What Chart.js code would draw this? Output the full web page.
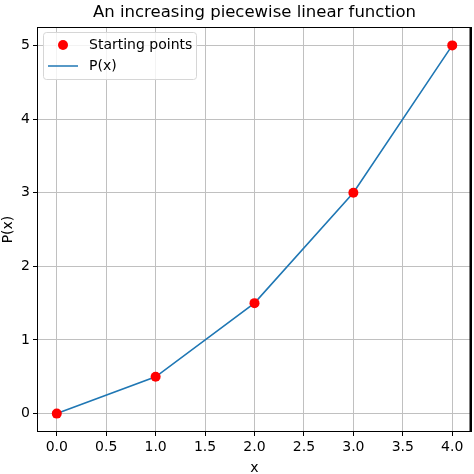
<!DOCTYPE html>
<html>
<head>
<meta charset="utf-8">
<script src="https://cdn.jsdelivr.net/npm/chart.js@4/dist/chart.umd.min.js"></script>
<style>
  html, body { margin: 0; padding: 0; background: #fff; }
  #wrap { width: 474px; height: 474px; }
</style>
</head>
<body>
<div id="wrap"><canvas id="c" width="474" height="474"></canvas></div>
<script>
// values
const xValues = [0, 1, 2, 3, 4];
const pValues = [0, 0.5, 1.5, 3, 5];
const xTicks = [0, 0.5, 1, 1.5, 2, 2.5, 3, 3.5, 4];
const yTicks = [0, 1, 2, 3, 4, 5];
const seriesNames = ['Starting points', 'P(x)'];
const titleText = 'An increasing piecewise linear function';

const FONT = 'DejaVu Sans';
const LINE = '#1f77b4';
const DOT = '#ff0000';

const pts = xValues.map((x, i) => ({ x, y: pValues[i] }));

// frame around the axes + title centred over the plot area (like matplotlib)
const framePlugin = {
  id: 'frame',
  afterDraw(chart) {
    const { ctx, chartArea: a } = chart;
    ctx.save();
    ctx.strokeStyle = '#000';
    ctx.lineWidth = 1;
    ctx.beginPath();
    ctx.moveTo(a.left, a.top + 0.5);
    ctx.lineTo(a.right, a.top + 0.5);
    ctx.moveTo(a.left + 0.5, a.top);
    ctx.lineTo(a.left + 0.5, a.bottom);
    ctx.moveTo(a.left, a.bottom - 0.5);
    ctx.lineTo(a.right, a.bottom - 0.5);
    ctx.stroke();
    ctx.lineWidth = 2.5;
    ctx.beginPath();
    ctx.moveTo(a.right - 1.25, a.top);
    ctx.lineTo(a.right - 1.25, a.bottom);
    ctx.stroke();

    ctx.fillStyle = '#000';
    ctx.font = '16.5px "' + FONT + '"';
    ctx.textAlign = 'center';
    ctx.textBaseline = 'middle';
    ctx.fillText(titleText, (a.left + a.right) / 2, 13);
    ctx.restore();
  }
};

// legend box in upper-left corner of the axes
const legendPlugin = {
  id: 'boxLegend',
  afterDatasetsDraw(chart) {
    const { ctx, chartArea: a } = chart;
    const x0 = a.left + 6, y0 = a.top + 5, w = 153, h = 47;
    ctx.save();
    ctx.fillStyle = 'rgba(255,255,255,0.8)';
    ctx.strokeStyle = '#d6d6d6';
    ctx.lineWidth = 1;
    ctx.beginPath();
    ctx.roundRect(x0 + 0.5, y0 + 0.5, w, h, 3);
    ctx.fill();
    ctx.stroke();
    // marker entry
    ctx.fillStyle = DOT;
    ctx.beginPath();
    ctx.arc(x0 + 20, y0 + 13, 5, 0, Math.PI * 2);
    ctx.fill();
    // line entry
    ctx.strokeStyle = LINE;
    ctx.lineWidth = 1.5;
    ctx.beginPath();
    ctx.moveTo(x0 + 5, y0 + 34);
    ctx.lineTo(x0 + 35, y0 + 34);
    ctx.stroke();
    ctx.fillStyle = '#000';
    ctx.font = '14px "' + FONT + '"';
    ctx.textBaseline = 'middle';
    ctx.fillText(seriesNames[0], x0 + 46, y0 + 13);
    ctx.fillText(seriesNames[1], x0 + 46, y0 + 34);
    ctx.restore();
  }
};

new Chart(document.getElementById('c'), {
  type: 'scatter',
  data: {
    datasets: [
      {
        label: seriesNames[0],
        data: pts,
        showLine: false,
        pointRadius: 5,
        pointHoverRadius: 5,
        pointBackgroundColor: DOT,
        pointBorderWidth: 0,
        order: 0
      },
      {
        label: seriesNames[1],
        data: pts,
        showLine: true,
        borderColor: LINE,
        borderWidth: 1.6,
        pointRadius: 0,
        fill: false,
        order: 1
      }
    ]
  },
  options: {
    responsive: false,
    animation: false,
    layout: { autoPadding: false, padding: { left: 0, right: 2, top: 27, bottom: 0 } },
    plugins: {
      legend: { display: false },
      tooltip: { enabled: false },
      title: { display: false }
    },
    scales: {
      x: {
        type: 'linear',
        min: -0.2,
        max: 4.2,
        afterBuildTicks: s => { s.ticks = xTicks.map(v => ({ value: v })); },
        afterFit: s => { s.height = 42; s.paddingLeft = 0; s.paddingRight = 0; },
        ticks: {
          color: '#000',
          font: { family: FONT, size: 14 },
          padding: 3,
          maxRotation: 0,
          callback: v => v.toFixed(1)
        },
        grid: { color: '#c0c0c0', lineWidth: 1, tickColor: '#000', tickLength: 4 },
        border: { display: false },
        title: {
          display: true,
          text: 'x',
          color: '#000',
          font: { family: FONT, size: 14 },
          padding: { top: 0, bottom: -3 }
        }
      },
      y: {
        type: 'linear',
        min: -0.25,
        max: 5.25,
        afterBuildTicks: s => { s.ticks = yTicks.map(v => ({ value: v })); },
        afterFit: s => { s.width = 37; s.paddingTop = 0; s.paddingBottom = 0; },
        ticks: {
          color: '#000',
          font: { family: FONT, size: 14 },
          padding: 3
        },
        grid: { color: '#c0c0c0', lineWidth: 1, tickColor: '#000', tickLength: 4 },
        border: { display: false },
        title: {
          display: true,
          text: 'P(x)',
          color: '#000',
          font: { family: FONT, size: 14 },
          padding: { top: 0, bottom: 0 }
        }
      }
    }
  },
  plugins: [framePlugin, legendPlugin]
});
</script>
</body>
</html>
